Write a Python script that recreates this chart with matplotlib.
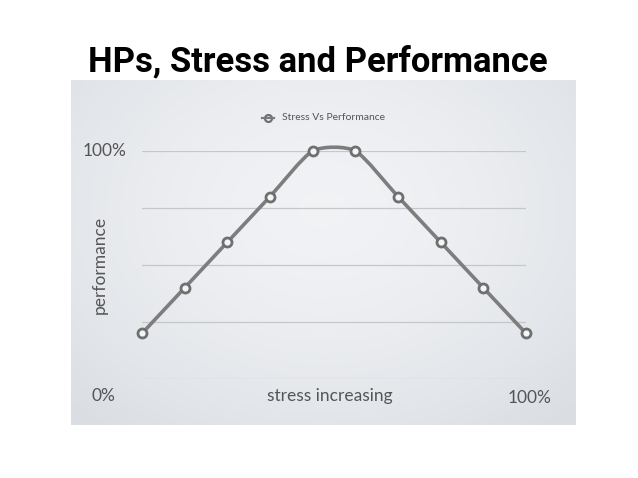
import numpy as np
import matplotlib
matplotlib.use("Agg")
import matplotlib.pyplot as plt
from matplotlib.path import Path
from matplotlib.patches import PathPatch

# data
stress_steps = list(range(10))
performance = [20, 40, 60, 80, 100, 100, 80, 60, 40, 20]
series_name = "Stress Vs Performance"
grid_levels = [0, 25, 50, 75, 100]

W, H = 638, 478
fig = plt.figure(figsize=(W / 100, H / 100), dpi=100)
fig.patch.set_facecolor("white")

# slide title, sized to span the same width as the original
title = fig.text(318 / W, 1 - 62 / H, "HPs, Stress and Performance", ha="center", va="center",
                 fontsize=26, fontweight="bold", family="Roboto", color="black")
rend = fig.canvas.get_renderer()
tw = title.get_window_extent(rend).width
title.set_fontsize(26 * 460 / tw)

# gray panel with soft gradient
bg = fig.add_axes([71 / W, 1 - 425 / H, 505 / W, 345 / H])
yy, xx = np.mgrid[-1:1:200j, -1:1:300j]
r = np.sqrt((xx * 0.9) ** 2 + (yy * 0.8 + 0.2) ** 2)
shade = np.clip(r, 0, 1.3)
light = np.array([0.945, 0.95, 0.96])
dark = np.array([0.855, 0.87, 0.89])
img = light + (dark - light) * (shade[..., None] / 1.3) ** 1.6
bg.imshow(img, aspect="auto", extent=[0, 1, 0, 1])
bg.set_axis_off()

# plot area
ax = fig.add_axes([142 / W, 1 - 379 / H, 384 / W, 228 / H])
ax.set_xlim(0, 9)
ax.set_ylim(0, 100)
ax.patch.set_alpha(0)
for s in ax.spines.values():
    s.set_visible(False)
ax.set_xticks([])
ax.set_yticks([])
for g in grid_levels:
    ax.axhline(g, color="#c4c8cc", lw=0.9, zorder=1)

# smooth line through the points (Catmull-Rom as bezier segments, low tension)
pts = np.column_stack([stress_steps, performance]).astype(float)
verts = [pts[0]]
codes = [Path.MOVETO]
for i in range(len(pts) - 1):
    p0 = pts[i - 1] if i > 0 else pts[i]
    p1, p2 = pts[i], pts[i + 1]
    p3 = pts[i + 2] if i + 2 < len(pts) else pts[i + 1]
    c1 = p1 + (p2 - p0) / 9
    c2 = p2 - (p3 - p1) / 9
    verts += [c1, c2, p2]
    codes += [Path.CURVE4] * 3
ax.add_patch(PathPatch(Path(verts, codes), fill=False, edgecolor="#7d7d7d",
                       lw=2.6, zorder=3, clip_on=False))
ax.plot(stress_steps, performance, ls="none", marker="o", ms=6.5, mfc="#f4f5f6",
        mec="#6f6f6f", mew=2.0, zorder=4, clip_on=False)

# labels
lab = dict(family="Lato", fontweight="normal", color="#555555")
fig.text(105 / W, 1 - 151 / H, "100%", ha="center", va="center", fontsize=12.5, **lab)
fig.text(103 / W, 1 - 396 / H, "0%", ha="center", va="center", fontsize=12.5, **lab)
fig.text(330 / W, 1 - 396 / H, "stress increasing", ha="center", va="center", fontsize=12.5, **lab)
fig.text(530 / W, 1 - 398 / H, "100%", ha="center", va="center", fontsize=12.5, **lab)
fig.text(100 / W, 1 - 265 / H, "performance", ha="center", va="center", rotation=90,
         fontsize=12.5, **lab)

# legend
fig.add_artist(plt.Line2D([262 / W, 274 / W], [1 - 118 / H] * 2, color="#7a7a7a", lw=1.6, zorder=1))
ax.plot([268 / W], [1 - 118 / H], transform=fig.transFigure, marker="o", ms=5,
        mfc="#f4f5f6", mec="#6f6f6f", mew=1.6, clip_on=False)
fig.text(282 / W, 1 - 118 / H, series_name, ha="left", va="center", fontsize=7.5, **lab)

fig.savefig("out.png", dpi=100)
